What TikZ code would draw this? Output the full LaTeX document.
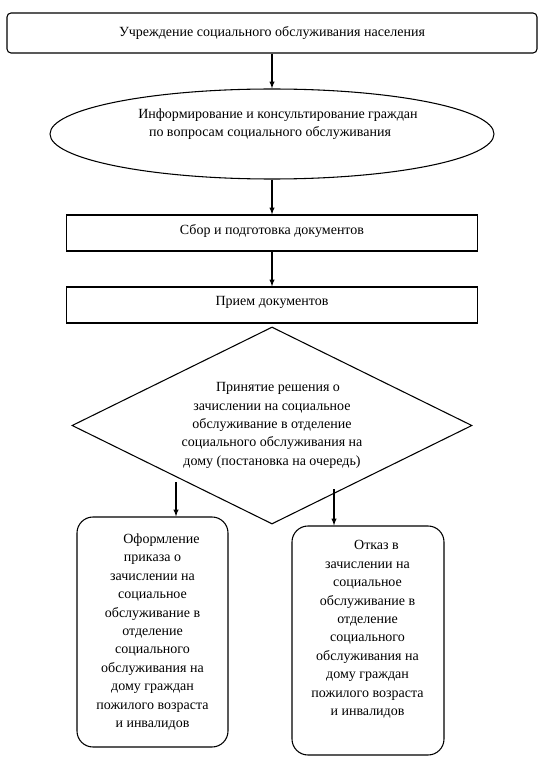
\documentclass[tikz,border=0pt]{standalone}
\usepackage{fontspec}
\setmainfont{Liberation Serif}
\usetikzlibrary{shapes.geometric}

\begin{document}
\begin{tikzpicture}[x=0.75pt, y=-0.75pt, >=latex,
    every node/.style={font=\fontsize{10.5pt}{13.8pt}\selectfont},
    top_node/.style={draw, line width=0.8pt, rounded corners=3pt, minimum width=397.5pt, minimum height=30pt, inner sep=0pt},
    oval_node/.style={draw, line width=0.8pt, ellipse, minimum width=333pt, minimum height=67.5pt, inner sep=0pt},
    step_node/.style={draw, line width=0.8pt, minimum width=308.25pt, minimum height=27pt, inner sep=0pt, text depth=6pt},
    choice_node/.style={draw, line width=0.8pt, diamond, aspect=2.03, minimum width=300pt, minimum height=147.75pt, inner sep=0pt, align=center},
    end_node/.style={draw, line width=0.8pt, rounded corners=12pt, minimum width=113.25pt, minimum height=172.5pt, inner sep=0pt, align=center},
    text_node/.style={inner sep=0pt, align=center},
    arrow/.style={->, line width=0.8pt}]

    \useasboundingbox (0,0) rectangle (545,759);

    \node[top_node] (inst) at (272, 33) {Учреждение социального обслуживания населения};
    \node[oval_node] (info) at (272, 134) {};
    \node[text_node] (info_text) at (270, 124) {\hspace*{12pt}Информирование и консультирование граждан\\по вопросам социального обслуживания};
    \node[step_node] (collect) at (272, 233) {Сбор и подготовка документов};
    \node[step_node] (accept) at (272, 305) {Прием документов};
    \node[choice_node] (decide) at (272, 425.5) {\hspace*{9pt}Принятие решения о\\зачислении на социальное\\обслуживание в отделение\\социального обслуживания на\\дому (постановка на очередь)};
    \node[end_node] (order) at (152.5, 632) {\hspace*{13.5pt}Оформление\\приказа о\\зачислении на\\социальное\\обслуживание в\\отделение\\социального\\обслуживания на\\дому граждан\\пожилого возраста\\и инвалидов};
    \node[end_node, minimum width=114pt, minimum height=171.75pt] (refuse) at (368, 640.5) {};
    \node[text_node] (refuse_text) at (367.5, 629.5) {\hspace*{13.5pt}Отказ в\\зачислении на\\социальное\\обслуживание в\\отделение\\социального\\обслуживания на\\дому граждан\\пожилого возраста\\и инвалидов};

    \coordinate (yes_start) at (176, 482);
    \coordinate (no_start) at (334, 489);

    \draw[arrow] (inst.south) -- (info.north);
    \draw[arrow] (info.south) -- (collect.north);
    \draw[arrow] (collect.south) -- (accept.north);
    \draw[arrow] (yes_start) -- (yes_start |- order.north);
    \draw[arrow] (no_start) -- (no_start |- refuse.north);

\end{tikzpicture}
\end{document}
